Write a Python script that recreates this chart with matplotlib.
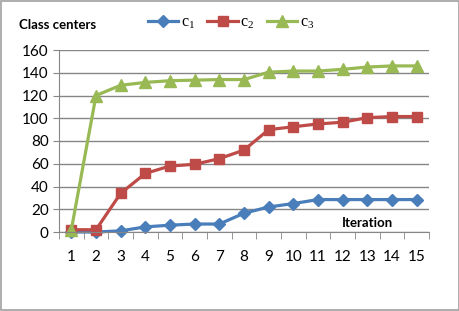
import numpy as np
import matplotlib
matplotlib.use('Agg')
import matplotlib.pyplot as plt
from matplotlib.patches import Rectangle

# valores
iteracoes = np.arange(1, 16)
c1 = [0, 0, 1, 4.5, 6, 7, 7, 16.5, 22, 25, 28.5, 28.5, 28.5, 28.5, 28.5]
c2 = [2, 2, 34, 51.5, 58, 59.5, 64.5, 72, 90, 92.5, 95, 96.5, 100.5, 101.5, 101.5]
c3 = [2, 120, 129, 131.5, 133, 133.5, 134, 134, 140.5, 141.5, 141.5, 143, 145, 146, 146]
yticks = [0, 20, 40, 60, 80, 100, 120, 140, 160]

cinza = '#868686'
plt.rcParams['font.family'] = ['Lato', 'DejaVu Sans']

fig = plt.figure(figsize=(4.6, 3.11), dpi=100)
fig.patches.append(Rectangle((0.002, 0.003), 0.996, 0.994, transform=fig.transFigure,
                             fill=False, edgecolor='#a0a0a0', linewidth=1.2))
ax = fig.add_axes([59/460, 1-232/311, 370/460, 182/311])

ax.plot(iteracoes, c1, color='#4A7EBB', marker='D', markersize=6, linewidth=2.3, label=r'$\mathregular{c_1}$')
ax.plot(iteracoes, c2, color='#BE4B48', marker='s', markersize=7, linewidth=2.3, label=r'$\mathregular{c_2}$')
ax.plot(iteracoes, c3, color='#98B954', marker='^', markersize=8, linewidth=2.3, label=r'$\mathregular{c_3}$')

ax.set_xlim(0.5, 15.5)
ax.set_ylim(0, 160)
ax.set_yticks(yticks)
ax.set_xticks(iteracoes)
ax.set_xticks(np.arange(0.5, 16, 1), minor=True)
ax.yaxis.grid(True, color=cinza, linewidth=1)
ax.set_axisbelow(True)
for s in ['top', 'right']:
    ax.spines[s].set_visible(False)
for s in ['left', 'bottom']:
    ax.spines[s].set_color(cinza)
ax.tick_params(axis='y', colors=cinza, labelcolor='black', labelsize=11, length=4)
ax.tick_params(axis='x', which='major', length=0, pad=13, labelsize=11)
ax.tick_params(axis='x', which='minor', length=5, color=cinza)
for l in ax.get_lines():
    l.set_clip_on(False)

fig.text(19/460, 1-25/311, 'Class centers', fontsize=9.5, fontweight='bold', va='center')
ax.text(13, 8, 'Iteration', fontsize=9.5, fontweight='bold', ha='center', va='center')

leg = fig.legend(loc='center', bbox_to_anchor=(231/460, 1-23/311), ncol=3, frameon=False,
                 prop={'family': 'Liberation Serif', 'size': 11.5}, handlelength=1.9,
                 columnspacing=0.8, handletextpad=0.15)

fig.savefig('out.png', dpi=100)
